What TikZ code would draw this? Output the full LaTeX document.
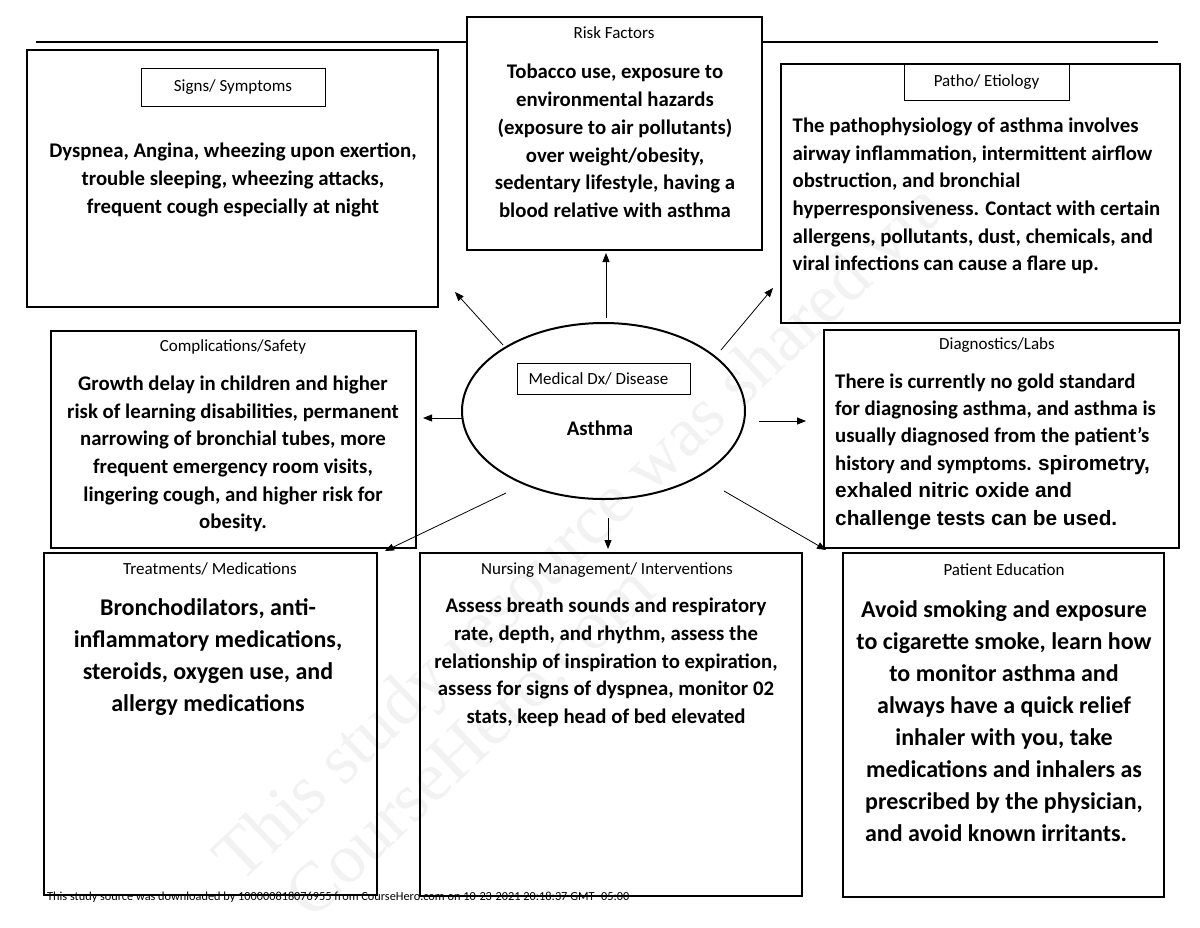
\documentclass[tikz,border=0pt]{standalone}
\usepackage{fontspec}
\setmainfont{Carlito}
\newfontfamily\arialfont{Liberation Sans}
\newfontfamily\wmfont{Liberation Serif}
\usetikzlibrary{arrows.meta,shapes.geometric}
\definecolor{wmgray}{RGB}{242,242,242}
\begin{document}
\begin{tikzpicture}[x=1pt,y=-1pt,
  bodyt/.style={font=\bfseries\fontsize{20.8}{27.7}\selectfont, align=center, inner sep=0pt},
  bigt/.style={font=\bfseries\fontsize{24}{32}\selectfont, align=center, inner sep=0pt},
  titlet/.style={font=\fontsize{17}{20}\selectfont, inner sep=0pt},
  thickbox/.style={draw, line width=2pt, inner sep=0pt, outer sep=0pt},
  thinbox/.style={draw, line width=1.1pt, inner sep=0pt, outer sep=0pt},
  labbox/.style={draw, line width=0.9pt, inner sep=0pt, outer sep=0pt},
  arr/.style={-{Triangle[length=9pt,width=7pt]}, line width=0.8pt},
  wmark/.style={font=\wmfont\fontsize{70}{80}\selectfont, text=wmgray, inner sep=0pt, anchor=base west, rotate=43.5}
]
\useasboundingbox (0,0) rectangle (1200,927);
\fill[white] (0,0) rectangle (1200,927);

% watermark
\node[wmark] (wm1) at (240,885) {This study resource was shared via};
\node[wmark] (wm2) at (312,922) {CourseHero.com};

% boxes
\node[thinbox, minimum width=295pt, minimum height=233pt] (risk) at (614.5,133.5) {};
\coordinate (tl) at (36,42);
\coordinate (tr) at (1158,42);
\draw[line width=1.4pt] (tl) -- (tl -| risk.west);
\draw[line width=1.4pt] (tl -| risk.east) -- (tr);

\node[thickbox, minimum width=411pt, minimum height=257pt] (signs) at (232.5,178.5) {};
\node[labbox, minimum width=184pt, minimum height=38pt, titlet] (signsT) at (233,87) {Signs/ Symptoms};
\node[bodyt] (signsB) at (233,180) {Dyspnea, Angina, wheezing upon exertion,\\ trouble sleeping, wheezing attacks,\\ frequent cough especially at night};

\node[titlet] (riskT) at (614,33) {Risk Factors};
\node[bodyt] (riskB) at (615,141) {Tobacco use, exposure to\\ environmental hazards\\ (exposure to air pollutants)\\ over weight/obesity,\\ sedentary lifestyle, having a\\ blood relative with asthma};

\node[thickbox, minimum width=399pt, minimum height=259pt] (patho) at (980.5,193.5) {};
\node[labbox, minimum width=165pt, minimum height=36pt, titlet] (pathoT) at (986.5,82) {Patho/ Etiology};
\node[bodyt, align=left, anchor=west] (pathoB) at (792.5,196) {The pathophysiology of asthma involves\\ airway inflammation, intermittent airflow\\ obstruction, and bronchial\\ hyperresponsiveness. Contact with certain\\ allergens, pollutants, dust, chemicals, and\\ viral infections can cause a flare up.};

\node[thinbox, minimum width=365pt, minimum height=217pt] (compl) at (233.5,439.5) {};
\node[titlet] (complT) at (233,347) {Complications/Safety};
\node[bodyt] (complB) at (233,454) {Growth delay in children and higher\\ risk of learning disabilities, permanent\\ narrowing of bronchial tubes, more\\ frequent emergency room visits,\\ lingering cough, and higher risk for\\ obesity.};

\node[ellipse, thickbox, minimum width=283pt, minimum height=176pt] (dis) at (603.5,411) {};
\node[labbox, minimum width=173pt, minimum height=31pt, titlet] (disT) at (603.5,378.5) {Medical Dx/ Disease\hspace*{10pt}};
\node[bodyt] (disB) at (600,428) {Asthma};

\node[thinbox, minimum width=355pt, minimum height=218pt] (diag) at (1001.5,439) {};
\node[titlet] (diagT) at (997,345) {Diagnostics/Labs};
\node[bodyt, align=left, anchor=west, font=\bfseries\fontsize{20.8}{27.4}\selectfont] (diagB) at (835,451.5) {There is currently no gold standard\\ for diagnosing asthma, and asthma is\\ usually diagnosed from the patient’s\\ history and symptoms. {\arialfont spirometry,}\\ {\arialfont exhaled nitric oxide and}\\ {\arialfont challenge tests can be used.}};

\node[thinbox, minimum width=333pt, minimum height=342pt] (treat) at (210.5,724) {};
\node[titlet] (treatT) at (210,569) {Treatments/ Medications};
\node[bigt] (treatB) at (208,657) {Bronchodilators, anti-\\ inflammatory medications,\\ steroids, oxygen use, and\\ allergy medications};

\node[thinbox, minimum width=382pt, minimum height=343pt] (nurse) at (611,724.5) {};
\node[titlet] (nurseT) at (607,570) {Nursing Management/ Interventions};
\node[bodyt] (nurseB) at (606,662.5) {Assess breath sounds and respiratory\\ rate, depth, and rhythm, assess the\\ relationship of inspiration to expiration,\\ assess for signs of dyspnea, monitor 02\\ stats, keep head of bed elevated};

\node[thinbox, minimum width=321pt, minimum height=344pt] (pat) at (1003.5,725) {};
\node[titlet] (patT) at (1004,570) {Patient Education};
\node[bigt] (patB) at (1004,721.5) {Avoid smoking and exposure\\ to cigarette smoke, learn how\\ to monitor asthma and\\ always have a quick relief\\ inhaler with you, take\\ medications and inhalers as\\ prescribed by the physician,\\ and avoid known irritants.\hspace*{16pt}};

% arrows
\coordinate (a1s) at (503,345); \coordinate (a1e) at (455,292);
\coordinate (a2s) at (606,318); \coordinate (a2e) at (606,253);
\coordinate (a3s) at (721,350); \coordinate (a3e) at (773,288);
\coordinate (a4s) at (462,418); \coordinate (a4e) at (423,418);
\coordinate (a5s) at (759,421); \coordinate (a5e) at (806,421);
\coordinate (a6s) at (506,493); \coordinate (a6e) at (385,551);
\coordinate (a7s) at (608,518); \coordinate (a7e) at (608,549);
\coordinate (a8s) at (724,491); \coordinate (a8e) at (826,550);
\foreach \i in {1,...,8} {\draw[arr] (a\i s) -- (a\i e);}

% footer
\node[font=\fontsize{12.3}{14}\selectfont, inner sep=0pt, anchor=west] (foot) at (47,897) {This study source was downloaded by 100000818076955 from CourseHero.com on 10-23-2021 20:18:37 GMT -05:00};
\end{tikzpicture}
\end{document}
